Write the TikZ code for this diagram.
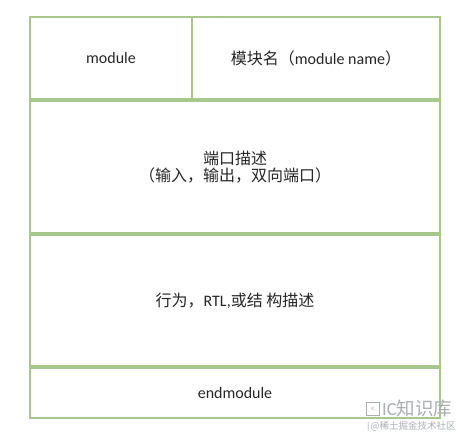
\documentclass[tikz,border=0pt]{standalone}
\usepackage{fontspec}
\setmainfont{Carlito}
\newfontfamily\cjk{Noto Sans CJK SC}
\definecolor{boxgreen}{RGB}{168,199,140}
\definecolor{wm}{RGB}{170,175,180}
\begin{document}
\begin{tikzpicture}[x=1pt,y=-1pt,
  cell/.style={draw=boxgreen, line width=1.6pt, inner sep=0pt, outer sep=0pt, align=center,
    font=\fontsize{16}{18}\selectfont, text=black!85},
  wmtext/.style={inner sep=0pt, text=wm}]
\useasboundingbox (0,0) rectangle (474,445);
\fill[white] (0,0) rectangle (474,445);
\node[cell, minimum width=162pt, minimum height=82pt] (mod) at (111,58) {module};
\node[cell, minimum width=248pt, minimum height=82pt] (name) at (316,58)
  {{\cjk 模块名（}module name{\cjk ）}};
\node[cell, minimum width=410pt, minimum height=132pt] (port) at (235,167)
  {{\cjk 端口描述}\\[-1pt]{\cjk （输入，输出，双向端口）}};
\node[cell, minimum width=410pt, minimum height=131pt] (body) at (235,300.5)
  {{\cjk 行为，}RTL,{\cjk 或结 构描述}};
\node[cell, minimum width=410pt, minimum height=50pt] (endm) at (235,393) {endmodule};
\node[draw=wm, line width=1.2pt, minimum width=13pt, minimum height=13pt, inner sep=0pt,
  font=\fontsize{5}{5}\selectfont, text=wm] (icon) at (373,409) {IC};
\node[wmtext, anchor=west, font=\fontsize{18.5}{19}\selectfont] (wm1) at (382,408) {IC{\cjk 知识库}};
\node[wmtext, anchor=west, font=\fontsize{9.5}{10}\selectfont] (wm2) at (366,426) {|{\cjk @稀土掘金技术社区}};
\end{tikzpicture}
\end{document}
